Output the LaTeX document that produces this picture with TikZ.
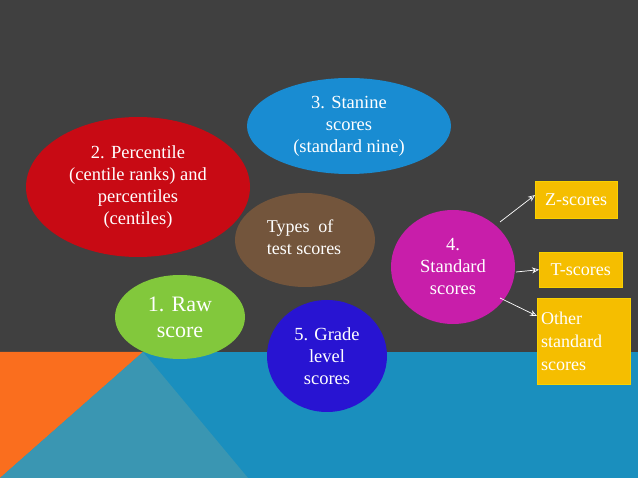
\documentclass[tikz,border=0pt]{standalone}
\usepackage{fontspec}
\setmainfont{Liberation Serif}
\usetikzlibrary{shapes.geometric,arrows.meta}
\definecolor{bgg}{RGB}{64,64,64}
\definecolor{band}{RGB}{26,143,190}
\definecolor{lband}{RGB}{58,150,178}
\definecolor{org}{RGB}{250,110,30}
\definecolor{rd}{RGB}{200,10,20}
\definecolor{stb}{RGB}{25,140,210}
\definecolor{brw}{RGB}{115,85,60}
\definecolor{grn}{RGB}{130,200,60}
\definecolor{gbl}{RGB}{40,20,210}
\definecolor{mag}{RGB}{200,30,170}
\definecolor{ylw}{RGB}{245,190,0}
\begin{document}
\begin{tikzpicture}[x=1pt,y=-1pt,
 el/.style={ellipse,minimum width=#1,text=white,font=\fontsize{18.5}{22}\selectfont,align=center,inner sep=0pt},
 bx/.style={fill=#1,draw=ylw!70!yellow,text=white,font=\fontsize{18}{23}\selectfont,align=left,anchor=north west,inner sep=2pt},
 ar/.style={draw=white,-{Stealth[length=7pt,width=6pt,open]},line width=0.7pt}]
\useasboundingbox (0,0) rectangle (638,478);
\fill[bgg] (0,0) rectangle (638,352);
\fill[band] (0,352) rectangle (638,478);
\fill[org] (0,352) -- (143,352) -- (0,478) -- cycle;
\fill[lband] (143,352) -- (248,478) -- (0,478) -- cycle;
\node[el=224pt,minimum height=140pt,fill=rd] (pct) at (138,187) {2. Percentile\\(centile ranks) and\\percentiles\\(centiles)};
\node[el=204pt,minimum height=96pt,fill=stb] (sta) at (349,126) {3. Stanine\\scores\\(standard nine)};
\node[el=140pt,minimum height=94pt,fill=brw] (typ) at (305,240) {};
\node[text=white,font=\fontsize{18}{22}\selectfont,align=left] (typt) at (304,237) {Types\ \ of\\test scores};
\node[el=130pt,minimum height=84pt,fill=grn,font=\fontsize{22}{26}\selectfont] (raw) at (180,317) {1. Raw\\score};
\node[el=120pt,minimum height=112pt,fill=gbl] (gr) at (327,356) {5. Grade\\level\\scores};
\node[el=124pt,minimum height=114pt,fill=mag] (std) at (453,267) {4.\\Standard\\scores};
\node[bx=ylw,minimum width=82pt,minimum height=37pt] (z) at (535,181) {Z-scores};
\node[bx=ylw,minimum width=83pt,minimum height=35pt] (t) at (539,252) {T-scores};
\node[bx=ylw,minimum width=93pt,minimum height=86pt,text width=85pt] (o) at (537,298) {Other\\standard\\scores};
\coordinate (s1) at (500,222);\coordinate (s2) at (516,272);\coordinate (s3) at (500,298);
\draw[ar] (s1) -- (z.west|-0,195);
\draw[ar] (s2) -- (t.west);
\draw[ar] (s3) -- (o.west|-0,316);
\end{tikzpicture}
\end{document}
